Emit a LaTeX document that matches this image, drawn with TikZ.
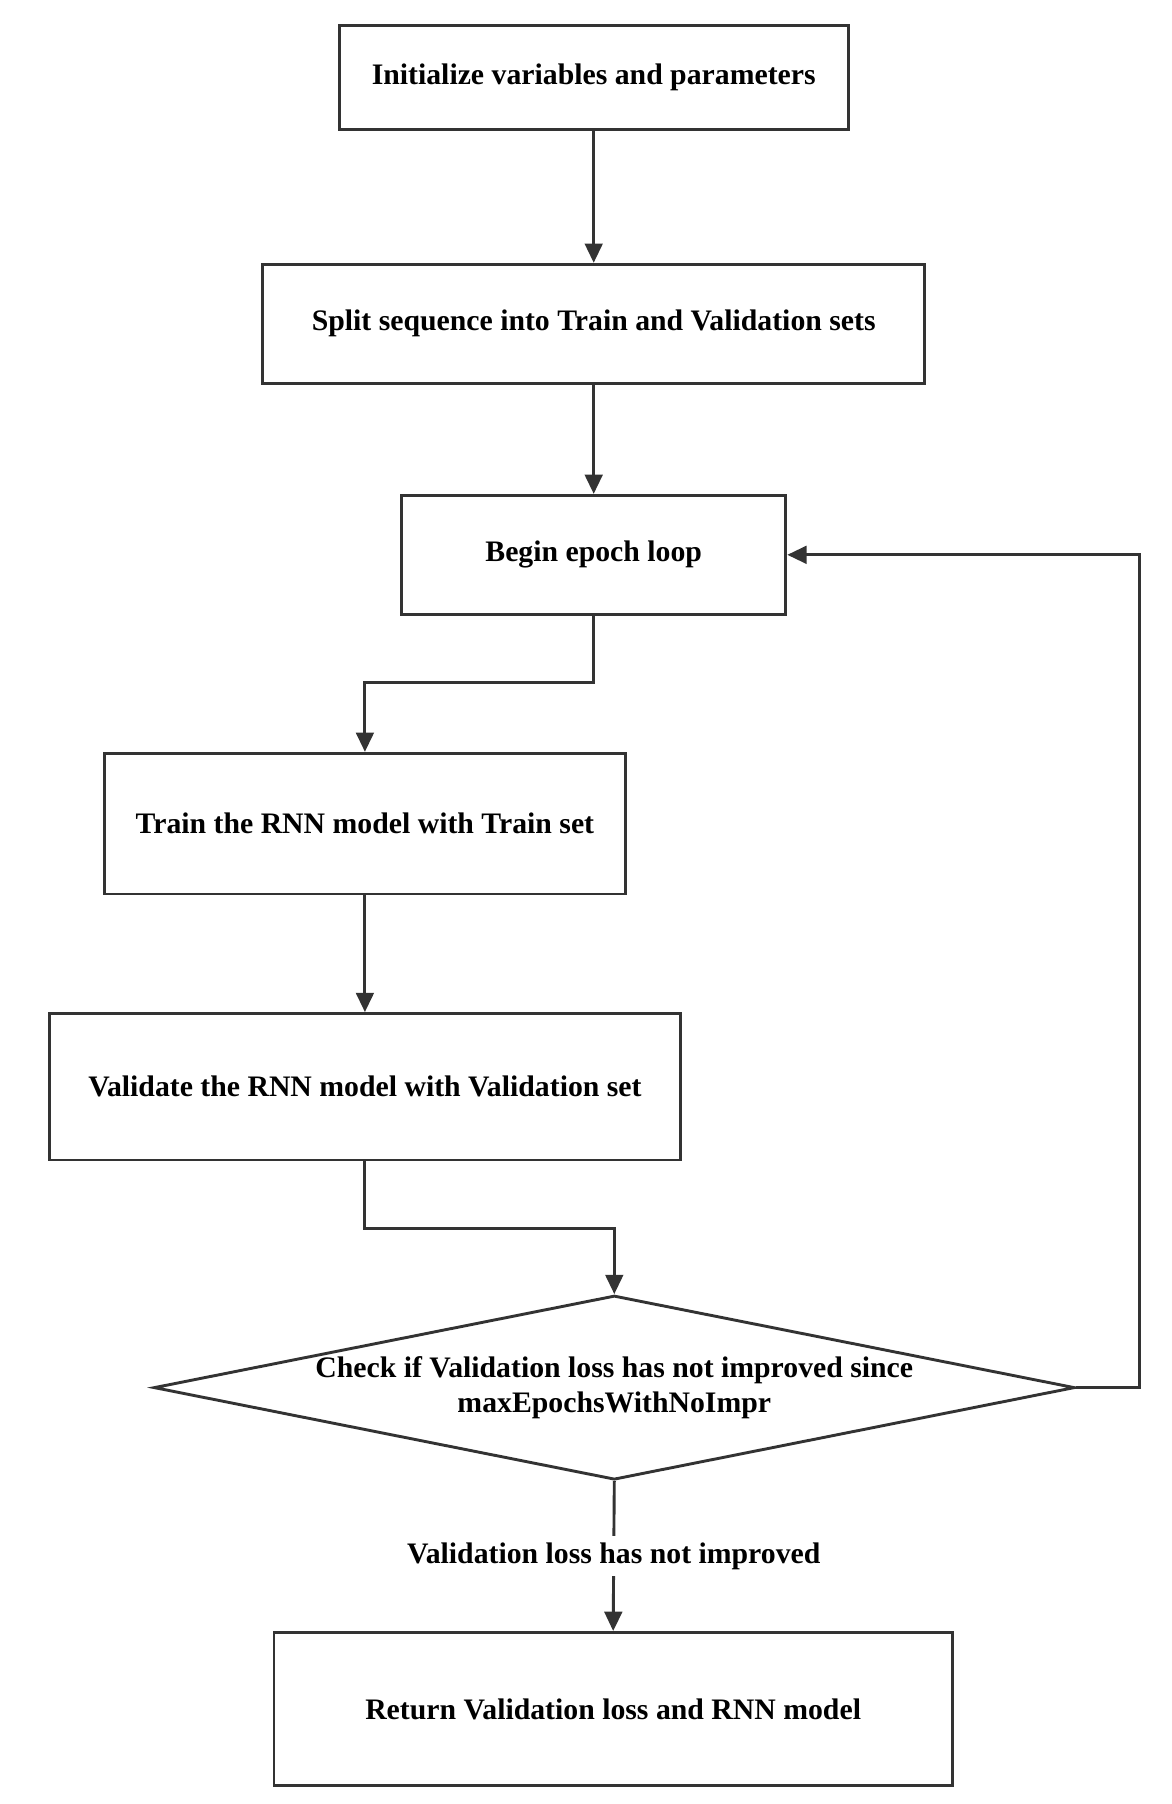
\documentclass[tikz,border=0pt]{standalone}
\usepackage{fontspec}
\setmainfont{Liberation Serif}
\usetikzlibrary{shapes.geometric,arrows.meta,positioning}
\tikzset{
  box/.style={draw=black!80,line width=1.8pt,inner sep=0pt,font=\fontsize{18.5}{22}\selectfont\bfseries,align=center},
  flow/.style={draw=black!80,line width=1.8pt,-{Triangle[length=12pt,width=11pt]}}
}
\begin{document}
\begin{tikzpicture}[x=0.025cm,y=-0.025cm]
  \useasboundingbox (0,0) rectangle (1024,1577);

  \node[box,minimum width=445*0.025cm,minimum height=91*0.025cm] (init) at (519,68) {Initialize variables and parameters};
  \node[box,minimum width=579*0.025cm,minimum height=104*0.025cm] (split) at (519,283) {Split sequence into Train and Validation sets};
  \node[box,minimum width=336*0.025cm,minimum height=104*0.025cm] (epoch) at (519,485) {Begin epoch loop};
  \node[box,minimum width=456*0.025cm,minimum height=123*0.025cm] (train) at (319,720) {Train the RNN model with Train set};
  \node[box,minimum width=552*0.025cm,minimum height=128*0.025cm] (valid) at (319,950) {Validate the RNN model with Validation set};
  \node[box,diamond,aspect=5,minimum width=805*0.025cm,minimum height=161*0.025cm] (check) at (537,1213)
    {Check if Validation loss has not improved since\\maxEpochsWithNoImpr};
  \node[box,minimum width=593*0.025cm,minimum height=134*0.025cm] (ret) at (536,1494) {Return Validation loss and RNN model};

  \coordinate (loop) at (996,1213);

  \draw[flow] (init) -- (split);
  \draw[flow] (split) -- (epoch);
  \draw[flow] (epoch.south) |- (319,597) -- (train.north);
  \draw[flow] (train) -- (valid);
  \draw[flow] (valid.south) |- (537,1074) -- (check.north);
  \draw[flow] (check.south) -- node[fill=white,font=\fontsize{18.5}{22}\selectfont\bfseries,inner sep=4pt,pos=0.5] (lbl) {Validation loss has not improved} (ret.north);
  \draw[flow] (check.east) -- (loop) |- (epoch.east);
\end{tikzpicture}
\end{document}
